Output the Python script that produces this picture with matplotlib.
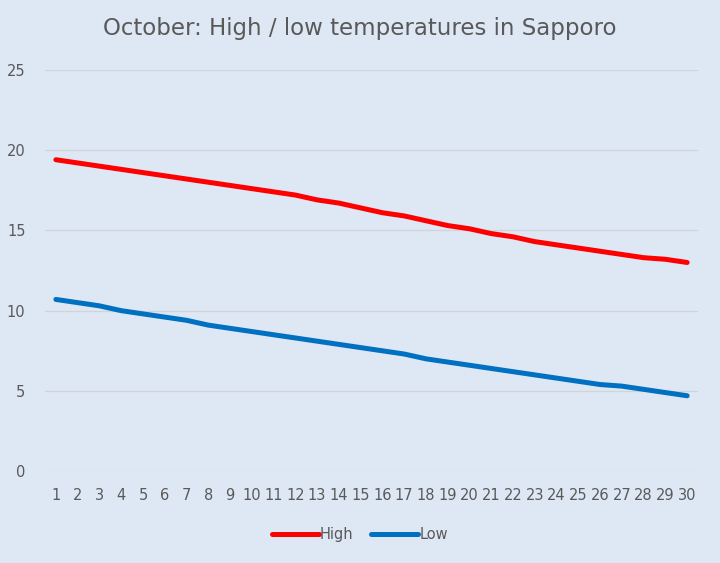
import numpy as np
import matplotlib.pyplot as plt

# October daily normals in Sapporo (deg C)
days = list(range(1, 31))
high = [19.4, 19.2, 19.0, 18.8, 18.6, 18.4, 18.2, 18.0, 17.8, 17.6,
        17.4, 17.2, 16.9, 16.7, 16.4, 16.1, 15.9, 15.6, 15.3, 15.1,
        14.8, 14.6, 14.3, 14.1, 13.9, 13.7, 13.5, 13.3, 13.2, 13.0]
low = [10.7, 10.5, 10.3, 10.0, 9.8, 9.6, 9.4, 9.1, 8.9, 8.7,
       8.5, 8.3, 8.1, 7.9, 7.7, 7.5, 7.3, 7.0, 6.8, 6.6,
       6.4, 6.2, 6.0, 5.8, 5.6, 5.4, 5.3, 5.1, 4.9, 4.7]
yticks = [0, 5, 10, 15, 20, 25]

bg = '#dee8f5'
txt = '#595959'

fig = plt.figure(figsize=(7.2, 5.63), dpi=100, facecolor=bg)
ax = fig.add_axes([0.0625, 0.163, 0.907, 0.713], facecolor=bg)

ax.plot(days, high, color='#ff0000', lw=3.6, solid_capstyle='round', label='High')
ax.plot(days, low, color='#0070c0', lw=3.6, solid_capstyle='round', label='Low')

ax.set_xlim(0.5, 30.5)
ax.set_ylim(0, 25)
ax.set_xticks(days)
ax.set_yticks(yticks)
ax.tick_params(length=0, colors=txt, labelsize=10.5)
ax.tick_params(axis='x', pad=12)
ax.tick_params(axis='y', pad=14)
ax.grid(axis='y', color='#d0d4d9', lw=1)
ax.set_axisbelow(True)
for s in ax.spines.values():
    s.set_visible(False)

fig.suptitle('October: High / low temperatures in Sapporo', y=0.97,
             fontsize=16.5, color=txt)
fig.legend(loc='center', bbox_to_anchor=(0.5, 0.05), ncol=2, frameon=False,
           fontsize=10.5, labelcolor=txt, handlelength=3.2, handletextpad=0.1,
           columnspacing=1.2)

fig.savefig('out.png', dpi=100, facecolor=bg)
